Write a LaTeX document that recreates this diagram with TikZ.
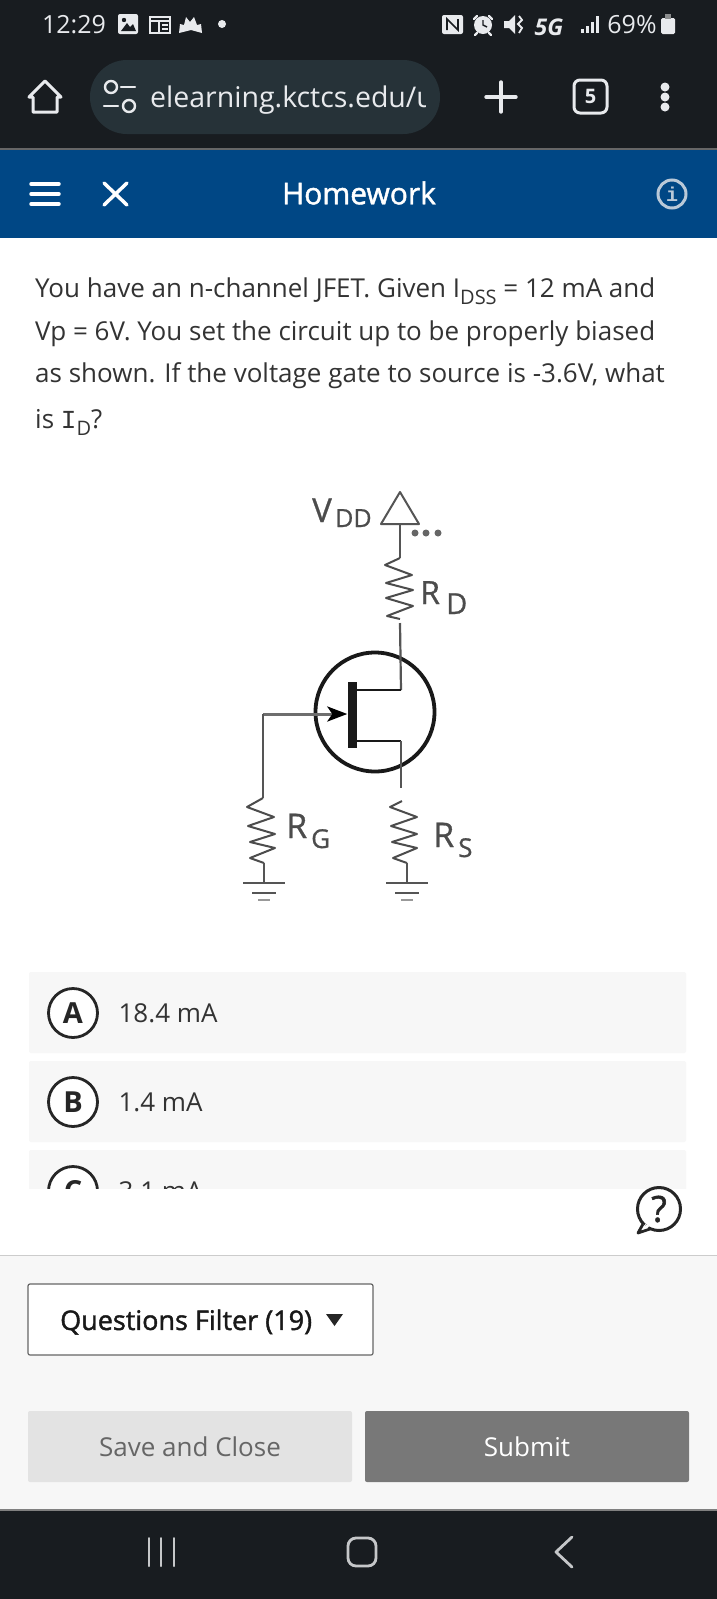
\documentclass[tikz,border=0pt]{standalone}
\usepackage{fontspec}
\setmainfont{Open Sans}
\setmonofont{Liberation Mono}
\newfontfamily\semibold[FakeBold=1.5]{Open Sans}
\newfontfamily\blurred[FakeBold=0.8]{Open Sans}
\usetikzlibrary{positioning,arrows.meta}
\definecolor{barDark}{HTML}{181C20}
\definecolor{pillDark}{HTML}{263238}
\definecolor{hwBlue}{HTML}{004785}
\definecolor{inkText}{HTML}{333333}
\definecolor{optGray}{HTML}{F7F7F7}
\definecolor{wireGray}{HTML}{555555}
\definecolor{iconLight}{HTML}{E8EAED}
\newcommand{\px}[1]{\fontsize{#1}{#1}\selectfont}
\newcommand{\subtext}[1]{\raisebox{-0.27em}{\px{20}#1}}
\tikzset{
    wire/.style={draw=wireGray, line width=2.2pt, line join=round},
    zigzag/.style={draw=black!70, line width=2pt, line join=round},
    blackwire/.style={draw=black!90, line width=2.8pt},
    qline/.style={anchor=base west, text=inkText, inner sep=0pt, font=\px{26}},
    circlabel/.style={text=black!70, inner sep=0pt},
    optbox/.style={fill=optGray, rounded corners=2pt},
    optmark/.style={circle, draw=black!85, line width=2.8pt, fill=white, minimum size=49pt, inner sep=0pt, font=\px{29}\bfseries, text=black!85},
    opttext/.style={text=inkText, inner sep=0pt, font=\px{26}},
    navicon/.style={draw=iconLight, line width=2.8pt, line cap=round, line join=round},
    barbutton/.style={rounded corners=2pt, inner sep=0pt}
}
\begin{document}
\begin{tikzpicture}[x=1pt, y=-1pt, node distance=2pt]
            \useasboundingbox (0,0) rectangle (717,1599);
            \fill[white] (0,0) rectangle (717,1599);
            \fill[barDark] (0,0) rectangle (717,149);
            \fill[black!60] (0,148) rectangle (717,150);
            \fill[hwBlue] (0,150) rectangle (717,238);

            \node(clock) [text=iconLight, inner sep=0pt, font=\px{25}] at (74,25) {12:29};
            \fill[iconLight, rounded corners=2pt] (118,14) rectangle (138,34);
            \fill[barDark] (121,31) -- (127,23) -- (130,27) -- (133,24) -- (136,31) -- cycle;
            \fill[barDark] (124,20) circle (2.2);
            \draw[iconLight, line width=2pt] (150,17) rectangle (170,33);
            \draw[iconLight, line width=1.5pt] (150,21) -- (170,21) (159,21) -- (159,33) (162,25) -- (168,25) (162,29) -- (168,29);
            \fill[iconLight] (179,33) -- (180,24) -- (184,25) -- (186,17) -- (190,22) -- (194,17) -- (197,25) -- (201,24) -- (202,33) -- (191,30) -- cycle;
            \fill[iconLight] (222,24) circle (4);

            \fill[iconLight, rounded corners=2pt] (442,15) rectangle (463,34);
            \draw[barDark, line width=1.6pt] (447,30) -- (447,19) -- (458,30) -- (458,19);
            \fill[iconLight] (483,25) circle (9);
            \draw[barDark, line width=1.4pt] (483,20) -- (483,25) -- (487,27);
            \draw[iconLight, line width=2.2pt, line cap=round] (474,19) -- (477,16) (489,16) -- (492,19) (477,33) -- (475,35) (489,33) -- (491,35);
            \fill[iconLight] (504,21) -- (509,21) -- (515,15) -- (515,34) -- (509,28) -- (504,28) -- cycle;
            \draw[iconLight, line width=1.8pt] (519,16) -- (522,20) -- (518,24) -- (522,28) -- (519,33);
            \node(fiveg) [text=iconLight, inner sep=0pt, font=\px{23}\bfseries\itshape] at (549,27) {5G};
            \foreach \sx/\sy in {581/29,586/26,591/22,596/16}
                \fill[iconLight] (\sx,\sy) rectangle (\sx+2.6,33);
            \node(battpct) [text=iconLight, inner sep=0pt, font=\px{25}] at (632,25) {69\%};
            \fill[iconLight, rounded corners=1.5pt] (661,18) rectangle (675,34);
            \fill[iconLight!60!black] (665,14) rectangle (671,19);

            \draw[navicon, line width=3pt] (29,97) -- (45,81) -- (61,97) -- (57,97) -- (57,112) -- (33,112) -- (33,97) -- cycle;
            \fill[pillDark, rounded corners=36.9pt] (90,60) rectangle (440,134);
            \draw[navicon, line width=2.4pt] (111,87) circle (6) (129,106) circle (6);
            \draw[navicon, line width=2.4pt] (121,87) -- (135,87) (104,106) -- (118,106);
            \begin{scope}
                \clip (140,60) rectangle (425,134);
                \node(url) [anchor=base west, text=iconLight, inner sep=0pt, font=\px{28.5}] at (150,107) {elearning.kctcs.edu/u};
            \end{scope}
            \draw[navicon, line width=3.4pt] (486,97) -- (516,97) (501,82) -- (501,112);
            \draw[navicon, line width=3pt, rounded corners=6pt] (574,80) rectangle (607,113);
            \node(tabcount) [text=iconLight, inner sep=0pt, font=\px{20}\bfseries] at (590.5,96.5) {5};
            \foreach \dy in {87,97,107}
                \fill[iconLight] (665,\dy) circle (4.5);

            \draw[white, line width=3.5pt, line cap=round] (31,184) -- (59,184) (31,194) -- (59,194) (31,204) -- (59,204);
            \draw[white, line width=3.5pt, line cap=round] (104,183) -- (127,205) (127,183) -- (104,205);
            \node(title) [text=white, inner sep=0pt, font=\px{30}\semibold] at (359,193) {Homework};
            \node(info) [circle, draw=iconLight!80!hwBlue, line width=3pt, minimum size=28pt, inner sep=0pt, text=iconLight!80!hwBlue, font=\px{20}\bfseries\ttfamily] at (672,194) {i};

            \node(qa) [qline] at (35,297) {You have an n-channel JFET. Given I\subtext{DSS} = 12 mA and};
            \node(qb) [qline] at (35,340) {Vp = 6V. You set the circuit up to be properly biased};
            \node(qc) [qline] at (35,382) {as shown. If the voltage gate to source is -3.6V, what};
            \node(qd) [qline] at (35,428) {is {\ttfamily I}\subtext{D}?};

            \node(V) [circlabel, font=\px{33}\blurred, anchor=base west] at (312,522) {V};
            \node(VDDsub) [circlabel, font=\px{25}\blurred, anchor=base west] at (335,527) {DD};
            \node(RD) [circlabel, font=\px{32}\blurred, anchor=base west] at (420,604) {R};
            \node(RDsub) [circlabel, font=\px{29}\blurred, anchor=base west] at (446,614) {D};
            \node(RG) [circlabel, font=\px{34}\blurred, anchor=base west] at (286,838) {R};
            \node(RGsub) [circlabel, font=\px{26}\blurred, anchor=base west] at (311,848) {G};
            \node(RS) [circlabel, font=\px{34}\blurred, anchor=base west] at (433,847) {R};
            \node(RSsub) [circlabel, font=\px{26}\blurred, anchor=base west] at (458,857) {S};

            \coordinate(vddtop) at (400,492);
            \coordinate(vddbase) at (400,524);
            \coordinate(rdtop) at (400,558);
            \coordinate(rdbot) at (400,619);
            \coordinate(drainin) at (400,623);
            \coordinate(drainknee) at (401,690);
            \coordinate(sourceknee) at (401,741);
            \coordinate(sourceout) at (401,788);
            \coordinate(rstop) at (402,801);
            \coordinate(rsbot) at (407,863);
            \coordinate(gndS) at (407,883);
            \coordinate(gateknee) at (263,714);
            \coordinate(rgtop) at (263,798);
            \coordinate(rgbot) at (264,863);
            \coordinate(gndG) at (264,883);

            \node(jfet) [circle, draw=black!90, line width=3.8pt, minimum size=119pt, inner sep=0pt] at (375,712) {};
            \node(chan) [fill=black!90, minimum width=9pt, minimum height=66pt, inner sep=0pt] at (352,715) {};

            \draw[wire, line width=2pt] (vddtop) ++(-19,32) -- (vddtop) -- ++(19,32) -- cycle;
            \draw[wire] (vddbase) -- (rdtop);
            \draw[zigzag] (rdtop) -- (385,565) -- (412,575) -- (386,583) -- (413,590) -- (386,598) -- (413,606) -- (387,616) -- (rdbot);
            \draw[wire] (drainin) -- (drainknee);
            \draw[blackwire] (drainknee) -- (drainknee -| chan.east);
            \draw[blackwire] (sourceknee) -- (sourceknee -| chan.east);
            \draw[wire] (sourceknee) -- (sourceout);
            \draw[zigzag] (rstop) -- (390,807) -- (417,817) -- (391,826) -- (417,834) -- (392,842) -- (417,848) -- (393,858) -- (rsbot);
            \draw[wire] (rsbot) -- (gndS);
            \draw[wire, draw=wireGray!85, line width=3pt, -{Stealth[length=20pt, width=15pt, inset=5pt, black]}] (gateknee) -- (gateknee -| chan.west);
            \draw[wire] (gateknee) -- (rgtop);
            \draw[zigzag] (rgtop) -- (247,807) -- (274,817) -- (248,826) -- (275,834) -- (250,842) -- (275,848) -- (250,858) -- (rgbot);
            \draw[wire] (rgbot) -- (gndG);
            \foreach \gnd in {gndG,gndS} {
                \draw[wire, line width=1.6pt] (\gnd) ++(-21,0) -- ++(42,0);
                \draw[wire, line width=1.6pt] (\gnd) ++(-12,10) -- ++(24,0);
                \draw[wire, draw=wireGray!60, line width=1.6pt] (\gnd) ++(-6,17) -- ++(12,0);
            }
            \foreach \ex in {415,426,438}
                \fill[wireGray!90] (\ex,533) circle (3.5);

            \begin{scope}
                \clip (0,960) rectangle (717,1188);
                \foreach \ly/\lab/\ans in {972/A/18.4 mA,1061/B/1.4 mA,1150/C/3.1 mA} {
                    \fill[optbox] (29,\ly) rectangle (686,\ly+81);
                    \node(opt\lab) [optmark] at (73,\ly+41) {\lab};
                    \node(ans\lab) [opttext, right=19.5pt of opt\lab] {\ans};
                }
            \end{scope}

            \node(help) [circle, draw=black!85, line width=3pt, minimum size=43pt, inner sep=0pt, text=black!85, font=\px{36}\semibold] at (659,1209) {?};
            \draw[black!85, fill=white, line width=2.8pt, line join=round] (643,1224) -- (638,1233) -- (650,1229);
            \fill[white] (645,1224) -- (646,1228) -- (650,1226) -- cycle;

            \fill[optGray] (0,1256) rectangle (717,1510);
            \draw[black!20, line width=1.5pt] (0,1255.5) -- (717,1255.5);
            \node(filter) [draw=black!60, line width=1.2pt, fill=white, rounded corners=2pt, minimum width=345pt, minimum height=71pt, inner sep=0pt] at (200.5,1319.5) {};
            \node(filtertxt) [anchor=west, inner sep=0pt, text=black!90, font=\px{27}\semibold] at (60,1322) {Questions Filter (19)};
            \fill[black!85] (326,1314) -- (343,1314) -- (334.5,1326) -- cycle;
            \node(save) [barbutton, fill=black!11, minimum width=324pt, minimum height=71pt, text=black!60, font=\px{26}] at (190,1446.5) {Save and Close};
            \node(submit) [barbutton, fill=black!53, minimum width=324pt, minimum height=71pt, text=white, font=\px{26}] at (527,1446.5) {Submit};

            \fill[barDark] (0,1510) rectangle (717,1599);
            \fill[black!50] (0,1509) rectangle (717,1510.5);
            \foreach \nx in {149,161,174}
                \draw[navicon, draw=iconLight!85!black, line width=2pt] (\nx,1538) -- (\nx,1566);
            \draw[navicon, draw=iconLight!85!black, rounded corners=8pt] (348,1538) rectangle (376,1566);
            \draw[navicon, draw=iconLight!85!black] (572,1537) -- (556,1552) -- (572,1567);
\end{tikzpicture}
\end{document}
